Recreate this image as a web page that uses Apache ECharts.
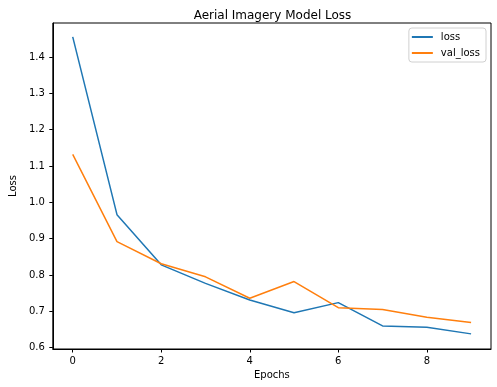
<!DOCTYPE html>
<html>
<head>
<meta charset="utf-8">
<script src="https://cdn.jsdelivr.net/npm/echarts@6/dist/echarts.min.js"></script>
<style>html,body{margin:0;padding:0;background:#fff}#c{width:497px;height:387px}</style>
</head>
<body>
<div id="c"></div>
<script>
const epochs = [0, 1, 2, 3, 4, 5, 6, 7, 8, 9];
const loss = [1.455, 0.966, 0.828, 0.777, 0.731, 0.696, 0.724, 0.660, 0.656, 0.638];
const valLoss = [1.132, 0.892, 0.831, 0.795, 0.736, 0.782, 0.710, 0.705, 0.684, 0.669];
const xTicks = [0, 2, 4, 6, 8];
const yTicks = [0.6, 0.7, 0.8, 0.9, 1.0, 1.1, 1.2, 1.3, 1.4];
const seriesNames = ['loss', 'val_loss'];

const font = 'DejaVu Sans';
const chart = echarts.init(document.getElementById('c'), null, {renderer: 'canvas'});
chart.setOption({
  animation: false,
  backgroundColor: '#fff',
  title: {
    text: 'Aerial Imagery Model Loss',
    left: 267.5, top: 5, textAlign: 'center',
    textStyle: {fontFamily: font, fontSize: 12, fontWeight: 'normal', color: '#000'}
  },
  legend: {
    data: seriesNames,
    orient: 'vertical',
    right: 11, top: 28,
    icon: 'rect', itemWidth: 21, itemHeight: 2, itemGap: 4,
    padding: [3, 6, 3, 3],
    borderColor: '#d0d0d0', borderWidth: 1, borderRadius: 3,
    backgroundColor: '#fff',
    textStyle: {fontFamily: font, fontSize: 10, color: '#000', lineHeight: 12, padding: [0, 0, 0, 3]}
  },
  grid: {left: 44, right: 6, top: 23, bottom: 38, show: true, borderColor: '#000', borderWidth: 1, backgroundColor: 'transparent'},
  xAxis: {
    type: 'value', min: -0.45, max: 9.45,
    name: 'Epochs', nameLocation: 'middle', nameGap: 19,
    nameTextStyle: {fontFamily: font, fontSize: 10, color: '#000'},
    axisLine: {show: true, onZero: false, lineStyle: {color: '#000', width: 1}},
    axisTick: {show: true, inside: false, length: 3.5, customValues: xTicks, lineStyle: {color: '#000'}},
    axisLabel: {customValues: xTicks, margin: 7, fontFamily: font, fontSize: 10, color: '#000'},
    splitLine: {show: false}
  },
  yAxis: {
    type: 'value', min: 0.5964, max: 1.4933,
    name: 'Loss', nameLocation: 'middle', nameGap: 27,
    nameTextStyle: {fontFamily: font, fontSize: 10, color: '#000'},
    axisLine: {show: true, onZero: false, lineStyle: {color: '#000', width: 1}},
    axisTick: {show: true, inside: false, length: 3.5, customValues: yTicks, lineStyle: {color: '#000'}},
    axisLabel: {customValues: yTicks, margin: 8, fontFamily: font, fontSize: 10, color: '#000',
      formatter: v => v.toFixed(1)},
    splitLine: {show: false}
  },
  series: [
    {name: seriesNames[0], type: 'line', data: epochs.map((e, i) => [e, loss[i]]), symbol: 'none',
     itemStyle: {color: '#1f77b4'}, lineStyle: {color: '#1f77b4', width: 1.5}},
    {name: seriesNames[1], type: 'line', data: epochs.map((e, i) => [e, valLoss[i]]), symbol: 'none',
     itemStyle: {color: '#ff7f0e'}, lineStyle: {color: '#ff7f0e', width: 1.5}}
  ]
});
</script>
</body>
</html>
